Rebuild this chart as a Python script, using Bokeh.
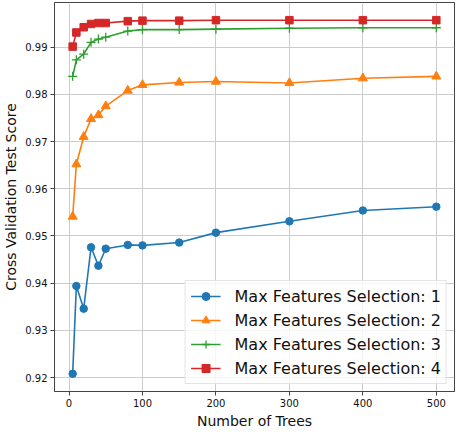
from bokeh.plotting import figure
from bokeh.models import FixedTicker, Range1d, Legend
from bokeh.embed import file_html
from bokeh.resources import INLINE

# ---- data ----
n_trees = [5, 10, 20, 30, 40, 50, 80, 100, 150, 200, 300, 400, 500]
score_mf1 = [0.9208, 0.9394, 0.9346, 0.9476, 0.9437, 0.9473, 0.9481, 0.9480, 0.9486, 0.9507, 0.9531, 0.9554, 0.9562]
score_mf2 = [0.9541, 0.9652, 0.9710, 0.9748, 0.9756, 0.9775, 0.9808, 0.9820, 0.9825, 0.9827, 0.9824, 0.9834, 0.9838]
score_mf3 = [0.9838, 0.9873, 0.9885, 0.9910, 0.9917, 0.9921, 0.9934, 0.9937, 0.9937, 0.9938, 0.9940, 0.9941, 0.9941]
score_mf4 = [0.9901, 0.9931, 0.9942, 0.9949, 0.9951, 0.9951, 0.9955, 0.9956, 0.9956, 0.9957, 0.9957, 0.9957, 0.9957]
series_labels = ["Max Features Selection: 1", "Max Features Selection: 2",
                 "Max Features Selection: 3", "Max Features Selection: 4"]
x_ticks = [0, 100, 200, 300, 400, 500]
y_ticks = [0.92, 0.93, 0.94, 0.95, 0.96, 0.97, 0.98, 0.99]
x_label = "Number of Trees"
y_label = "Cross Validation Test Score"

colors = ["#1f77b4", "#ff7f0e", "#2ca02c", "#d62728"]
markers = ["circle", "triangle", "cross", "square"]
msizes = [7.5, 9, 9, 7.5]
FONT = "DejaVu Sans"

all_y = score_mf1 + score_mf2 + score_mf3 + score_mf4
ymin, ymax = min(all_y), max(all_y)
ypad = (ymax - ymin) * 0.05
xpad = (max(n_trees) - min(n_trees)) * 0.05

p = figure(width=458, height=431, output_backend="svg", toolbar_location=None,
           x_range=Range1d(min(n_trees) - xpad, max(n_trees) + xpad),
           y_range=Range1d(ymin - ypad, ymax + ypad),
           min_border_left=0, min_border_right=4, min_border_top=2, min_border_bottom=0)

p.background_fill_color = "white"
p.border_fill_color = "white"
p.outline_line_color = "#444444"
p.outline_line_width = 1

p.xaxis.ticker = FixedTicker(ticks=x_ticks)
p.yaxis.ticker = FixedTicker(ticks=y_ticks)
p.xaxis.axis_label = x_label
p.yaxis.axis_label = y_label
for ax in (p.xaxis, p.yaxis):
    ax.axis_label_text_font = FONT
    ax.axis_label_text_font_size = "14px"
    ax.axis_label_text_font_style = "normal"
    ax.axis_label_text_color = "#111111"
    ax.major_label_text_font = FONT
    ax.major_label_text_font_size = "10px"
    ax.major_label_text_color = "#111111"
    ax.axis_line_color = "#444444"
    ax.major_tick_line_color = "#444444"
    ax.major_tick_out = 4
    ax.major_tick_in = 0
    ax.minor_tick_line_color = None
    ax.major_label_standoff = 3
    ax.axis_label_standoff = 3

p.xgrid.grid_line_color = "#cccccc"
p.ygrid.grid_line_color = "#cccccc"
p.xgrid.grid_line_width = 1
p.ygrid.grid_line_width = 1

items = []
for ys, c, m, s, lab in zip([score_mf1, score_mf2, score_mf3, score_mf4], colors, markers, msizes, series_labels):
    r1 = p.line(n_trees, ys, line_color=c, line_width=1.6)
    if m == "cross":
        r2 = p.scatter(n_trees, ys, marker=m, size=s, line_color=c, line_width=1.3)
    else:
        r2 = p.scatter(n_trees, ys, marker=m, size=s, fill_color=c, line_color=c)
    items.append((lab, [r1, r2]))

legend = Legend(items=items, location="bottom_right")
legend.label_text_font = FONT
legend.label_text_font_size = "16px"
legend.label_text_color = "#111111"
legend.glyph_width = 30
legend.glyph_height = 20
legend.label_height = 20
legend.spacing = 4
legend.label_standoff = 14
legend.padding = 5
legend.margin = 7
legend.border_line_color = "#cccccc"
legend.border_line_width = 1
legend.background_fill_color = "white"
legend.background_fill_alpha = 0.8
p.add_layout(legend)

open("out.html", "w").write(file_html(p, INLINE))
